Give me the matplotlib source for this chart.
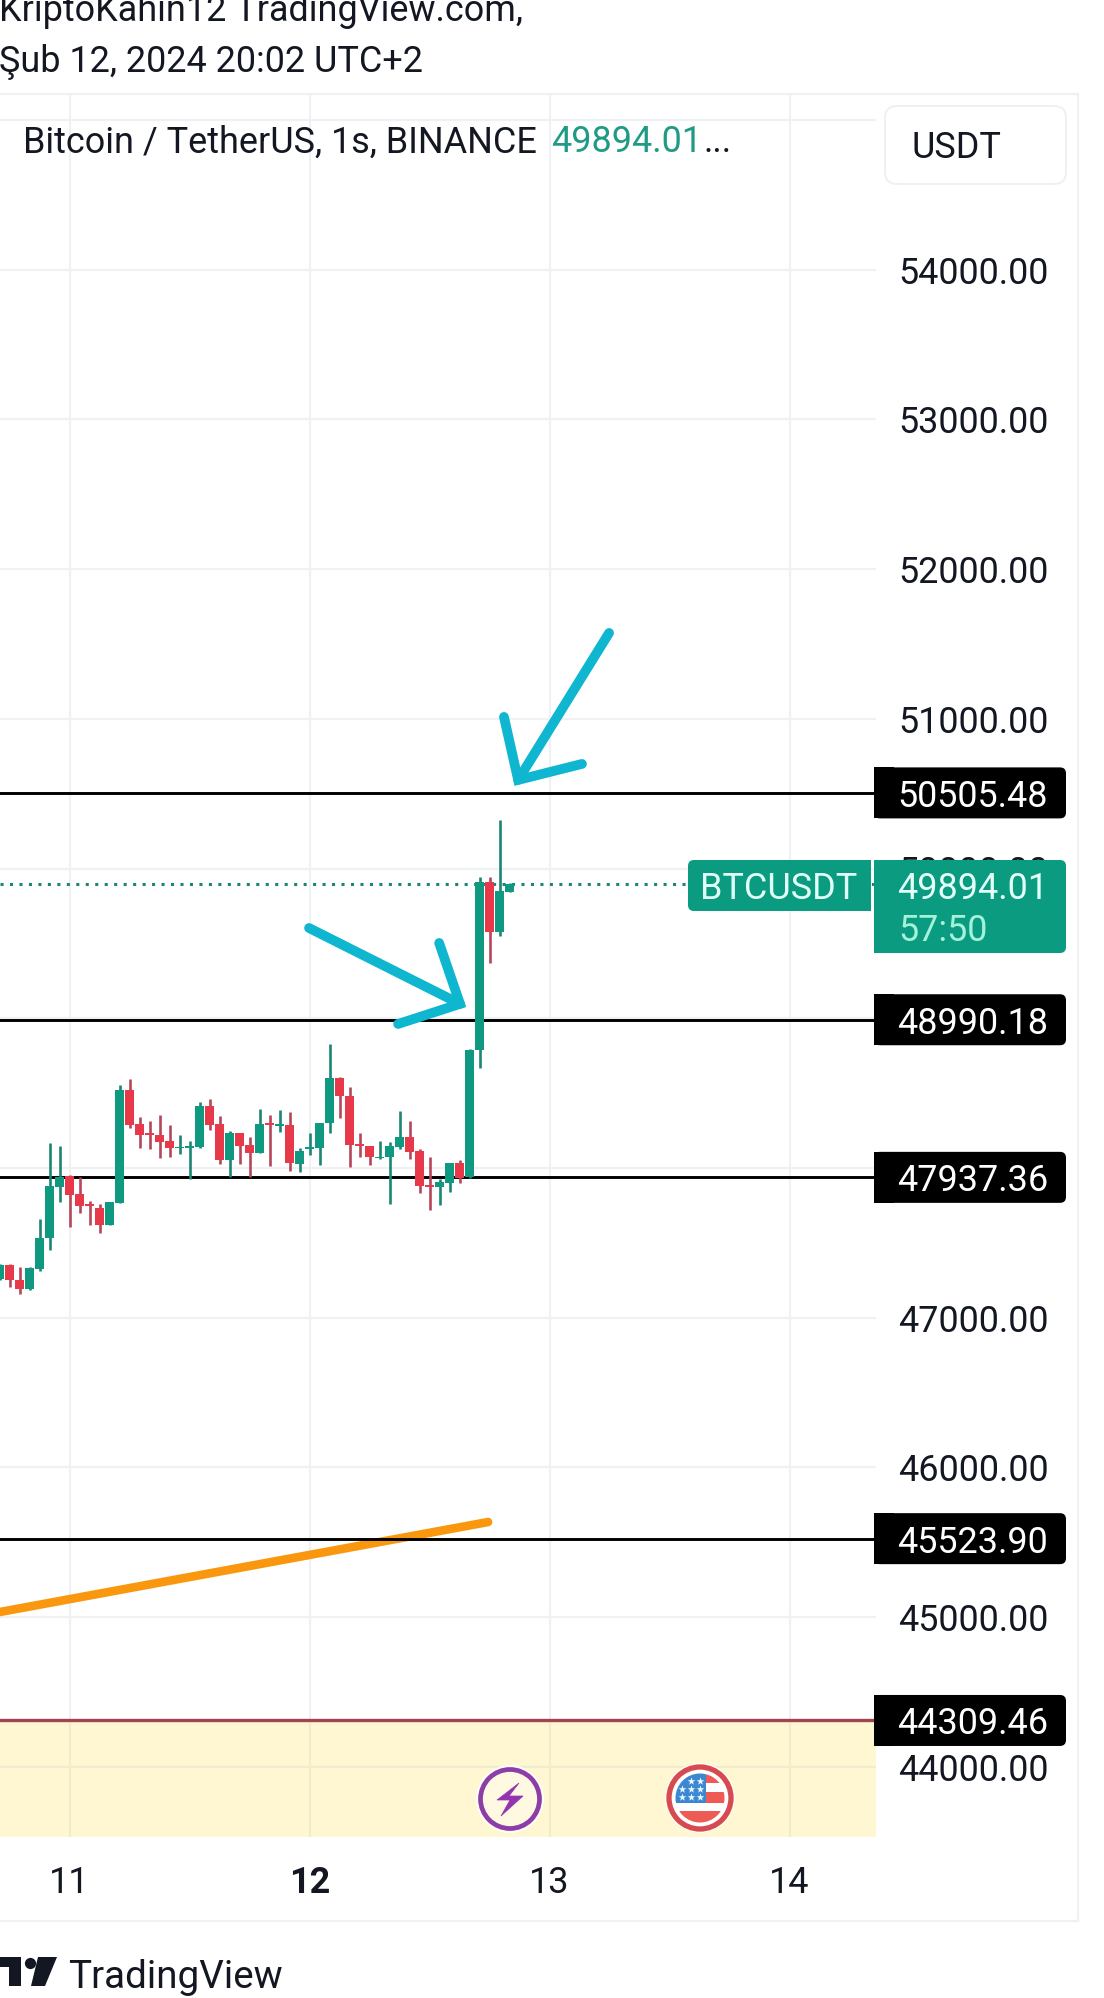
import matplotlib
matplotlib.use("Agg")
import matplotlib.pyplot as plt
from matplotlib.patches import FancyBboxPatch, Rectangle, Circle, Polygon

plt.rcParams['font.family'] = ['Roboto', 'DejaVu Sans']

# ---------- data ----------
hours = list(range(-7, 45))  # hourly candles, hours after Feb 11 00:00
opens = [47258,47353,47253,47191,47324,47529,47876,47947,47827,47760,47731,47622,47769,48520,48291,48231,48220,48180,48131,48131,48138,48411,48291,48056,48231,48151,48102,48298,48280,48284,48029,48127,48131,48298,48602,48484,48158,48144,48064,48071,48140,48204,48116,47884,47871,47902,48031,47942,48791,49913,49576,49842]
highs = [47360,47358,47338,47338,47658,48164,48147,47953,47942,47778,47758,47776,48551,48591,48338,48311,48351,48284,48218,48182,48438,48464,48344,48244,48233,48204,48391,48351,48387,48371,48131,48231,48300,48827,48607,48538,48231,48147,48180,48171,48380,48311,48124,48071,47924,48036,48051,48796,49947,49947,50327,49905]
lows = [47253,47202,47160,47187,47309,47453,47776,47609,47702,47618,47564,47620,47767,48264,48136,48127,48064,48076,48096,47924,48136,48253,48029,47938,48029,47942,48100,48016,48242,47982,47976,48089,48022,48236,48336,48009,48076,48022,48062,47762,48124,48062,47836,47716,47756,47842,47898,47931,48669,49369,49549,49842]
closes = [47353,47249,47191,47331,47531,47880,47942,47820,47747,47747,47622,47771,48520,48287,48222,48218,48176,48136,48142,48144,48411,48287,48056,48231,48149,48102,48291,48284,48291,48031,48113,48138,48298,48598,48482,48151,48144,48071,48076,48144,48204,48107,47878,47873,47904,48031,47936,48791,49909,49576,49847,49894.01]

level_prices = [50505.48, 48990.18, 47937.36, 45523.90]
zone_price = 44309.46
last_price = 49894.01
price_ticks = [44000, 45000, 46000, 47000, 48000, 49000, 50000, 51000, 52000, 53000, 54000, 55000]
price_tick_labels = ['44000.00','45000.00','46000.00','47000.00','','','50000.00','51000.00','52000.00','53000.00','54000.00','']
day_ticks = [11, 12, 13, 14]
day_labels = ['11', '12', '13', '14']

trend_days = [10.710, 12.744]
trend_prices = [45034, 45635]
arrow1_days = [13.248, 12.869]
arrow1_prices = [51574, 50592]
arrow1_head_days = [12.810, 12.869, 13.135]
arrow1_head_prices = [51013, 50592, 50699]
arrow2_days = [11.998, 12.627]
arrow2_prices = [49603, 49096]
arrow2_head_days = [12.540, 12.627, 12.369]
arrow2_head_prices = [49503, 49096, 48962]

# ---------- colours ----------
GREEN, RED = '#0f9980', '#e8394a'
GREEN_W, RED_W = '#1c8674', '#b4475a'
GRID = '#f0f1f4'
INK = '#131722'
CYAN = '#0fb6d0'
FS = 25.9

W, H = 1104, 1998
L, R, T, B = 0, 876, 94, 1837
fig = plt.figure(figsize=(W/100, H/100), dpi=100, facecolor='white')
ax = fig.add_axes([L/W, 1-B/H, (R-L)/W, (B-T)/H])
ax.set_xlim(10.7104, 14.360)
ax.set_ylim(43531, 55174)
for s in ax.spines.values():
    s.set_visible(False)
ax.set_xticks(day_ticks, day_labels)
ax.set_yticks(price_ticks, price_tick_labels)
ax.yaxis.tick_right()
ax.tick_params(axis='both', length=0, labelsize=FS, labelcolor=INK)
ax.tick_params(axis='x', pad=20.5)
ax.tick_params(axis='y', pad=16)
ax.get_xticklabels()[1].set_fontweight('bold')
ax.set_axisbelow(True)
ax.grid(True, color=GRID, lw=1.6)

# zone
ax.axhspan(43531, zone_price, color='#fff7d1', lw=0, zorder=0.5)
for d in day_ticks:
    ax.plot([d, d], [43531, zone_price], color='#f3eccb', lw=1.4, zorder=0.6)
ax.plot([10.7104, 14.36], [44000, 44000], color='#f3eccb', lw=1.4, zorder=0.6)
ax.axhline(zone_price, color='#a04450', lw=2.4, zorder=1)

# trend + levels
ax.plot(trend_days, trend_prices, color='#f9980f', lw=6.2, solid_capstyle='round', zorder=1.5)
for p in level_prices:
    ax.axhline(p, color='black', lw=2.1, zorder=2)
ax.axhline(last_price, color='#1c8674', lw=2.2, linestyle=(0, (1, 2.1)), zorder=2)

# candles
xs = [11 + h/24 for h in hours]
for x, o, hi, lo, c in zip(xs, opens, highs, lows, closes):
    up = c >= o
    ax.vlines(x, lo, hi, color=GREEN_W if up else RED_W, lw=1.9, zorder=3)
    ax.bar(x, abs(c-o), bottom=min(o, c), width=0.04, color=GREEN if up else RED, lw=0, zorder=3.2)

# arrows
for ds, ps in [(arrow1_days, arrow1_prices), (arrow1_head_days, arrow1_head_prices),
               (arrow2_days, arrow2_prices), (arrow2_head_days, arrow2_head_prices)]:
    ax.plot(ds, ps, color=CYAN, lw=7, solid_capstyle='round', solid_joinstyle='miter', zorder=4)

# ---------- overlay in pixel space ----------
ui = fig.add_axes([0, 0, 1, 1], zorder=5)
ui.set_xlim(0, W)
ui.set_ylim(H, 0)
ui.axis('off')
ui.patch.set_alpha(0)
fig.canvas.draw()

def py(price):
    return H - ax.transData.transform((11, price))[1]

def tag(x0, x1, y0, y1, color, left_round=False, right_round=True):
    ui.add_patch(FancyBboxPatch((x0+6, y0+6), x1-x0-12, y1-y0-12,
                 boxstyle='round,pad=6,rounding_size=6', fc=color, ec='none', zorder=2))
    if not left_round:
        ui.add_patch(Rectangle((x0, y0), 20, y1-y0, fc=color, ec='none', zorder=2))
    if not right_round:
        ui.add_patch(Rectangle((x1-20, y0), 20, y1-y0, fc=color, ec='none', zorder=2))

# frame
ui.plot([0, 1078], [94, 94], color=GRID, lw=1.6, zorder=1)
ui.plot([1078, 1078], [94, 1921], color=GRID, lw=1.6, zorder=1)
ui.plot([0, 1078], [1921, 1921], color=GRID, lw=1.6, zorder=1)

# price tags
for p in level_prices + [zone_price]:
    yc = py(p)
    tag(874, 1066, yc-25.5, yc+25.5, 'black')
    ui.text(897, yc, f'{p:.2f}', color='white', fontsize=FS, va='center_baseline', ha='left', zorder=3)

tag(874, 1066, 860, 953, '#0b9b81')
ui.text(897, 885, '49894.01', color='#e4fff7', fontsize=FS, va='center_baseline', ha='left', zorder=3)
ui.text(898, 927, '57:50', color='#a3f2da', fontsize=FS, va='center_baseline', ha='left', zorder=3)
tag(688, 871, 860, 911, '#0b9b81', left_round=True, right_round=False)
ui.text(779, 885, 'BTCUSDT', color='#e0fff6', fontsize=FS, va='center_baseline', ha='center', zorder=3)

# header text
ui.text(-1, 7, 'KriptoKahin12 TradingView.com,', color=INK, fontsize=FS, va='center_baseline', ha='left')
ui.text(-1, 58.5, 'Şub 12, 2024 20:02 UTC+2', color=INK, fontsize=FS, va='center_baseline', ha='left')
ui.text(23, 138.5, 'Bitcoin / TetherUS, 1s, BINANCE', color=INK, fontsize=FS, va='center_baseline', ha='left', zorder=3)
ui.text(551, 138.5, '49894.01', color='#1f9a85', fontsize=FS, va='center_baseline', ha='left', zorder=3)
ui.text(703, 138.5, '...', color=INK, fontsize=FS, va='center_baseline', ha='left', zorder=3)

# USDT button
ui.add_patch(FancyBboxPatch((893, 114), 165, 62, boxstyle='round,pad=8,rounding_size=12',
                            fc='white', ec='#eff0f4', lw=1.4, zorder=2))
ui.text(956, 143.5, 'USDT', color=INK, fontsize=FS, va='center_baseline', ha='center', zorder=3)

# lightning icon
ui.add_patch(Circle((510, 1799), 34, fc='white', ec='none', alpha=.8, zorder=2))
ui.add_patch(Circle((510, 1799), 29.5, fc='#fff9e2', ec='#8d3da8', lw=3.4, zorder=2.1))
ui.add_patch(Polygon([(519, 1783), (497, 1800), (510, 1800), (501, 1816), (523, 1796), (509, 1796)],
                     fc='#9135b0', ec='#9135b0', lw=.5, zorder=2.2))

# US flag icon
ui.add_patch(Circle((700, 1798), 35, fc='white', ec='none', alpha=.8, zorder=2))
ui.add_patch(Circle((700, 1798), 31, fc='white', ec='#d64a50', lw=3.8, zorder=2.1))
clip = Circle((700, 1798), 24.5, transform=ui.transData)
stripes = [Rectangle((706, 1774), 20, 9, fc='#ee5b54', ec='none', zorder=2.2),
           Rectangle((706, 1792), 20, 11, fc='#ee5b54', ec='none', zorder=2.2),
           Rectangle((672, 1811), 56, 12, fc='#ee5b54', ec='none', zorder=2.2),
           Rectangle((672, 1772), 34, 31, fc='#3d86d2', ec='none', zorder=2.3)]
for r in stripes:
    ui.add_patch(r)
    r.set_clip_path(clip)
star_x = [691, 700, 682, 691, 700, 682, 691, 700]
star_y = [1781, 1781, 1789, 1789, 1789, 1797, 1797, 1797]
ui.scatter(star_x, star_y, marker='*', s=34, color='#e8fbff', lw=0, zorder=2.4)

# logo
ui.add_patch(Polygon([(0, 1957), (21, 1957), (21, 1986), (9, 1986), (9, 1967), (0, 1967)], fc=INK, ec='none'))
ui.add_patch(Circle((30.5, 1963.5), 5.6, fc=INK, ec='none'))
ui.add_patch(Polygon([(38, 1957), (57, 1957), (45, 1986), (31, 1986)], fc=INK, ec='none'))
ui.text(68, 1973, 'TradingView', color=INK, fontsize=27.8, va='center_baseline', ha='left')

fig.savefig('out.png', dpi=100)
